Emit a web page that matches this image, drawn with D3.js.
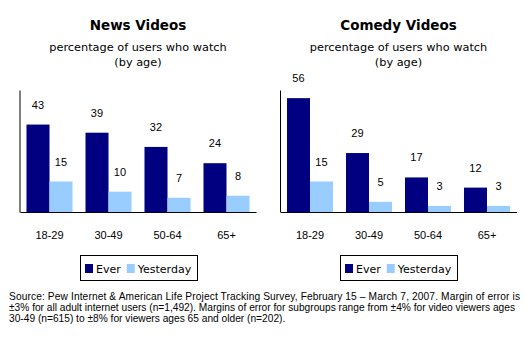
<!DOCTYPE html>
<html>
<head>
<meta charset="utf-8">
<script src="https://cdn.jsdelivr.net/npm/d3@7"></script>
<style>
  body { margin: 0; background: #fff; }
  svg { display: block; }
  .title { font-family: "DejaVu Sans", Verdana, sans-serif; font-weight: bold; font-size: 13.5px; }
  .sub { font-family: "DejaVu Sans", Verdana, sans-serif; font-size: 11.3px; }
  .val, .cat text { font-family: "Liberation Sans", Arial, sans-serif; font-size: 11px; }
  .leg { font-family: "DejaVu Sans", Verdana, sans-serif; font-size: 11px; }
  .src { font-family: "Liberation Sans", Arial, sans-serif; font-size: 10.2px; }
</style>
</head>
<body>
<svg id="chart" width="530" height="353"></svg>
<script>
const ages = ["18-29", "30-49", "50-64", "65+"]
const seriesNames = ["Ever", "Yesterday"]
const seriesColors = ["#000080", "#99ccff"]

const newsEver = [43, 39, 32, 24]
const newsYesterday = [15, 10, 7, 8]
const comedyEver = [56, 29, 17, 12]
const comedyYesterday = [15, 5, 3, 3]

const sourceLines = [
  "Source:  Pew Internet & American Life Project Tracking Survey, February 15 \u2013 March 7, 2007.  Margin of error is",
  "\u00b13% for all adult internet users (n=1,492). Margins of error for subgroups range from \u00b14% for video viewers ages",
  "30-49 (n=615) to \u00b18% for viewers ages 65 and older (n=202)."
]

let svg = d3.select("#chart")
svg.append("rect").attr("width", 530).attr("height", 353).attr("fill", "#fff")

let baseY = 212
let topY = 90
let yScale = d3.scaleLinear().domain([0, 60]).range([baseY, topY])

function drawPanel(title, ever, yesterday, x0, x1){
  let cx = (x0 + x1) / 2
  let g = svg.append("g")

  g.append("text").attr("class", "title").attr("x", cx).attr("y", 30)
    .attr("text-anchor", "middle").text(title)
  g.append("text").attr("class", "sub").attr("x", cx).attr("y", 51)
    .attr("text-anchor", "middle").text("percentage of users who watch")
  g.append("text").attr("class", "sub").attr("x", cx).attr("y", 66)
    .attr("text-anchor", "middle").text("(by age)")

  let xScale = d3.scaleBand().domain(ages).range([x0, x1]).paddingInner(0.22).paddingOuter(0.11)
  let xInner = d3.scaleBand().domain(seriesNames).range([0, xScale.bandwidth()])

  let rows = ages.map((a, i) => ({age: a, values: [
    {key: "Ever", v: ever[i]}, {key: "Yesterday", v: yesterday[i]}]}))

  let groups = g.selectAll("g.grp").data(rows).join("g").attr("class", "grp")
    .attr("transform", d => "translate(" + xScale(d.age) + ",0)")

  groups.selectAll("rect").data(d => d.values).join("rect")
    .attr("x", d => xInner(d.key))
    .attr("y", d => yScale(d.v))
    .attr("width", xInner.bandwidth())
    .attr("height", d => baseY - yScale(d.v))
    .attr("fill", (d, i) => seriesColors[i])

  groups.selectAll("text").data(d => d.values).join("text").attr("class", "val")
    .attr("x", d => xInner(d.key) + xInner.bandwidth() / 2)
    .attr("y", d => yScale(d.v) - 16)
    .attr("text-anchor", "middle")
    .text(d => d.v)

  // axes: just the lines plus category labels
  let yAxis = d3.axisLeft(yScale).ticks(0).tickSizeOuter(0)
  g.append("g").attr("transform", "translate(" + (x0 - 0.5) + ",0)").call(yAxis)
    .select(".domain").attr("stroke", "#000")

  let xAxis = d3.axisBottom(xScale).tickSize(0).tickSizeOuter(0).tickPadding(19)
  let xg = g.append("g").attr("class", "cat").attr("transform", "translate(0," + baseY + ")").call(xAxis)
  xg.select(".domain").attr("stroke", "#000")
  xg.selectAll("text").attr("fill", "#000")
  xg.attr("font-size", null).attr("font-family", null)

  // legend
  let lw = 117
  let lx = Math.round(cx - lw / 2) + 0.5
  let leg = g.append("g")
  leg.append("rect").attr("x", lx).attr("y", 255.5).attr("width", lw).attr("height", 25)
    .attr("fill", "none").attr("stroke", "#000")
  let cur = lx + 4.5
  seriesNames.forEach((s, i) => {
    leg.append("rect").attr("x", cur).attr("y", 264).attr("width", 8).attr("height", 9)
      .attr("fill", seriesColors[i])
    let t = leg.append("text").attr("class", "leg").attr("x", cur + 11).attr("y", 273).text(s)
    cur += 11 + t.node().getComputedTextLength() + 6
  })
}

drawPanel("News Videos", newsEver, newsYesterday, 20, 256)
drawPanel("Comedy Videos", comedyEver, comedyYesterday, 280.5, 516.5)

let srcWidths = [511, 506, null]
svg.selectAll("text.src").data(sourceLines).join("text").attr("class", "src")
  .attr("x", 9).attr("y", (d, i) => 300 + i * 11)
  .attr("textLength", (d, i) => srcWidths[i])
  .attr("lengthAdjust", "spacing")
  .text(d => d)
</script>
</body>
</html>
